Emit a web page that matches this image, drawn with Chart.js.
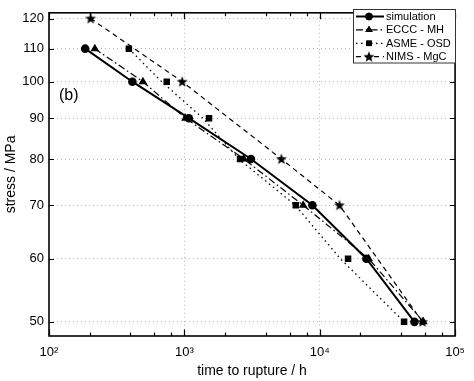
<!DOCTYPE html>
<html><head><meta charset="utf-8">
<script src="https://cdn.jsdelivr.net/npm/chart.js@4"></script>
<style>html,body{margin:0;padding:0;background:#fff}canvas{display:block}</style>
</head><body>
<div style="width:474px;height:381px;position:relative"><canvas id="c" width="474" height="381"></canvas></div>
<script>
// ---- data ----
const stressSim  = [110, 100, 90, 80, 70, 60, 50];
const timeSim    = [185, 413, 1079, 3105, 8830, 22130, 50100];
const stressECCC = [110, 100, 90, 80, 70, 60, 50];
const timeECCC   = [218, 494, 1020, 2750, 7550, 23000, 58300];
const stressASME = [110, 100, 90, 80, 70, 60, 50];
const timeASME   = [389, 741, 1521, 2580, 6650, 16200, 42000];
const timeASMEcurve = [389, 680, 1370, 2530, 6600, 14200, 42000];
const stressNIMS = [120, 100, 80, 70, 50];
const timeNIMS   = [203, 964, 5210, 14000, 57400];
const xTicks  = [100,200,400,600,800,1000,2000,4000,6000,8000,10000,20000,40000,60000,80000,100000];
const xMajor  = [100, 1000, 10000, 100000];
const xLabels = ['10²', '10³', '10⁴', '10⁵'];
const yTicks  = [50, 60, 70, 80, 90, 100, 110, 120];
const seriesNames = ['simulation', 'ECCC - MH', 'ASME - OSD', 'NIMS - MgC'];

const FONT = "'Liberation Sans', Arial, Helvetica, sans-serif";
function pts(xs, ys) { return xs.map((x, i) => ({x: x, y: ys[i]})); }

// five-point star marker
const star = document.createElement('canvas');
star.width = 12; star.height = 12;
(function(){
  const g = star.getContext('2d');
  g.fillStyle = '#000';
  g.beginPath();
  for (let i = 0; i < 10; i++) {
    const r = i % 2 === 0 ? 5.8 : 2.4;
    const a = -Math.PI / 2 + i * Math.PI / 5;
    const px = 6 + r * Math.cos(a), py = 6.3 + r * Math.sin(a);
    if (i === 0) g.moveTo(px, py); else g.lineTo(px, py);
  }
  g.closePath(); g.fill();
})();

const styles = [
  {dash: [], width: 2, point: 'circle', radius: 4.3},
  {dash: [7, 3, 1.5, 3], width: 1.2, point: 'triangle', radius: 5},
  {dash: [1.5, 3.5], width: 1.3, point: 'rect', radius: 4.6},
  {dash: [5, 4], width: 1.2, point: star, radius: 6}
];

function lineDs(data, s) {
  return {data: data, showLine: true, borderColor: '#000', borderWidth: s.width,
    borderDash: s.dash, pointRadius: 0, pointHoverRadius: 0, fill: false, tension: 0};
}
function markDs(data, s) {
  return {data: data, showLine: false, pointStyle: s.point, pointRadius: s.radius,
    pointHoverRadius: s.radius, backgroundColor: '#000', borderColor: '#000', borderWidth: 0};
}

const datasets = [
  lineDs(pts(timeNIMS, stressNIMS), styles[3]),
  lineDs(pts(timeASMEcurve, stressASME), styles[2]),
  lineDs(pts(timeECCC, stressECCC), styles[1]),
  lineDs(pts(timeSim, stressSim), styles[0]),
  markDs(pts(timeNIMS, stressNIMS), styles[3]),
  markDs(pts(timeASME, stressASME), styles[2]),
  markDs(pts(timeECCC, stressECCC), styles[1]),
  markDs(pts(timeSim, stressSim), styles[0])
];

function drawMarker(ctx, s, x, y) {
  ctx.save();
  ctx.setLineDash([]);
  ctx.fillStyle = '#000';
  if (s.point === star) { ctx.drawImage(star, x - 6, y - 6); }
  else if (Chart.helpers && Chart.helpers.drawPoint) {
    Chart.helpers.drawPoint(ctx, {pointStyle: s.point, radius: s.radius * 0.85, rotation: 0, borderWidth: 0}, x, y);
    ctx.fill();
  }
  ctx.restore();
}

const framePlugin = {
  id: 'frame',
  afterDraw(chart) {
    const {ctx, chartArea: a, scales: {x, y}} = chart;
    ctx.save();
    ctx.strokeStyle = '#000';
    ctx.setLineDash([]);
    // ticks
    ctx.lineWidth = 1.2;
    ctx.beginPath();
    xTicks.forEach(v => {
      const px = Math.round(x.getPixelForValue(v)) + 0.5;
      const len = xMajor.includes(v) ? 6.5 : 3.5;
      ctx.moveTo(px, a.bottom); ctx.lineTo(px, a.bottom - len);
      ctx.moveTo(px, a.top); ctx.lineTo(px, a.top + len);
    });
    yTicks.forEach(v => {
      const py = Math.round(y.getPixelForValue(v)) + 0.5;
      ctx.moveTo(a.left, py); ctx.lineTo(a.left + 5, py);
      ctx.moveTo(a.right, py); ctx.lineTo(a.right - 5, py);
    });
    ctx.stroke();
    // frame
    ctx.lineWidth = 1.6;
    ctx.strokeRect(a.left, a.top, a.right - a.left, a.bottom - a.top);
    // panel label
    ctx.fillStyle = '#000';
    ctx.font = '16px ' + FONT;
    ctx.textBaseline = 'middle';
    ctx.textAlign = 'left';
    ctx.fillText('(b)', 59, 96);
    // legend
    const lx = 353, ly = 9.5, lw = 102, lh = 53.5;
    ctx.fillStyle = '#fff';
    ctx.fillRect(lx, ly, lw, lh);
    ctx.lineWidth = 1;
    ctx.strokeStyle = '#333';
    ctx.strokeRect(lx + 0.5, ly, lw, lh);
    ctx.font = '11px ' + FONT;
    seriesNames.forEach((name, i) => {
      const s = styles[i];
      const ry = 16.5 + i * 13.4;
      ctx.strokeStyle = '#000';
      ctx.lineWidth = s.width;
      ctx.setLineDash(s.dash);
      ctx.beginPath(); ctx.moveTo(356, ry); ctx.lineTo(384, ry); ctx.stroke();
      drawMarker(ctx, s, 369, ry);
      ctx.fillStyle = '#000';
      ctx.setLineDash([]);
      ctx.fillText(name, 386, ry + 0.5);
    });
    ctx.restore();
  }
};

new Chart(document.getElementById('c'), {
  type: 'scatter',
  data: {datasets: datasets},
  plugins: [framePlugin],
  options: {
    responsive: false, animation: false, devicePixelRatio: 1,
    layout: {padding: {top: 3, right: 11, left: 0, bottom: 0}},
    plugins: {legend: {display: false}, tooltip: {enabled: false}},
    scales: {
      x: {
        type: 'logarithmic', position: 'bottom', min: 100, max: 100000,
        afterBuildTicks: sc => { sc.ticks = xTicks.map(v => ({value: v})); },
        afterFit: sc => { sc.height = 45; },
        border: {display: false, dash: [1, 3]},
        grid: {
          drawTicks: false,
          color: c => (c.tick && (c.tick.value === 1000 || c.tick.value === 10000)) ? '#b8b8b8' : 'rgba(0,0,0,0)',
          lineWidth: 1
        },
        ticks: {
          autoSkip: false, maxRotation: 0, padding: 9, color: '#000',
          font: {family: FONT, size: 13},
          callback: v => { const i = xMajor.indexOf(v); return i >= 0 ? xLabels[i] : ''; }
        },
        title: {display: true, text: 'time to rupture / h', color: '#000',
          font: {family: FONT, size: 14}, padding: {top: 0, bottom: 1}}
      },
      y: {
        type: 'logarithmic', position: 'left', min: 48, max: 122,
        afterBuildTicks: sc => { sc.ticks = yTicks.map(v => ({value: v})); },
        afterFit: sc => { sc.width = 49; },
        border: {display: false, dash: [1, 3]},
        grid: {drawTicks: false, color: '#b8b8b8', lineWidth: 1},
        ticks: {
          autoSkip: false, padding: 5, color: '#000',
          font: {family: FONT, size: 13},
          callback: v => String(v)
        },
        title: {display: true, text: 'stress / MPa', color: '#000',
          font: {family: FONT, size: 14}, padding: {top: 3, bottom: 0}}
      }
    }
  }
});
</script>
</body></html>
